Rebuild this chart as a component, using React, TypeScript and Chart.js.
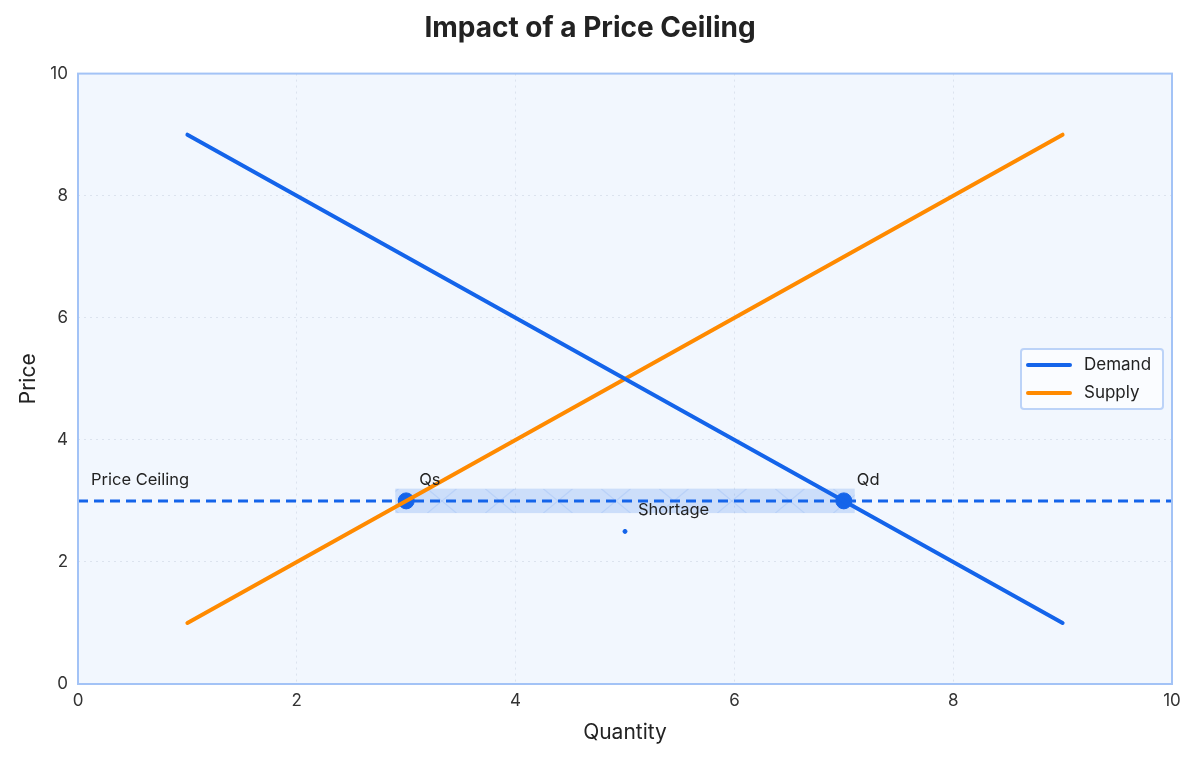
import React, { useEffect, useRef } from "react";
import { Chart, registerables } from "chart.js";

Chart.register(...registerables);

const demandPoints = [
  { x: 1, y: 9 },
  { x: 9, y: 1 },
];
const supplyPoints = [
  { x: 1, y: 1 },
  { x: 9, y: 9 },
];
const ceilingPrice = 3;
const ceilingLine = [
  { x: 0, y: ceilingPrice },
  { x: 10, y: ceilingPrice },
];
const marketPoints = [
  { x: 3, y: 3 },
  { x: 7, y: 3 },
];
const shortagePoint = [{ x: 5, y: 2.5 }];
const shortageBand = { x0: 2.9, x1: 7.1, y0: 2.8, y1: 3.2 };
const labelTexts = ["Price Ceiling", "Qs", "Qd", "Shortage"];
const labelAnchors = [
  { x: 0, y: 3 },
  { x: 3, y: 3 },
  { x: 7, y: 3 },
  { x: 5, y: 2.5 },
];
const tickValues = [0, 2, 4, 6, 8, 10];
const legendLabels = ["Demand", "Supply"];

const BLUE = "#1464ea";
const ORANGE = "#ff8a00";
const FONT = "Inter, 'Noto Sans', sans-serif";

const bgPlugin = {
  id: "bgPlugin",
  beforeDraw(chart: any) {
    const { ctx, chartArea: a } = chart;
    ctx.save();
    ctx.fillStyle = "#f2f7fe";
    ctx.fillRect(a.left, a.top, a.right - a.left, a.bottom - a.top);
    ctx.restore();
  },
  beforeDatasetsDraw(chart: any) {
    const { ctx, scales } = chart;
    const xs = scales.x;
    const ys = scales.y;
    const l = xs.getPixelForValue(shortageBand.x0);
    const r = xs.getPixelForValue(shortageBand.x1);
    const t = ys.getPixelForValue(shortageBand.y1);
    const b = ys.getPixelForValue(shortageBand.y0);
    ctx.save();
    ctx.fillStyle = "rgba(20,100,234,0.17)";
    ctx.fillRect(l, t, r - l, b - t);
    ctx.beginPath();
    ctx.rect(l, t, r - l, b - t);
    ctx.clip();
    ctx.strokeStyle = "rgba(20,100,234,0.10)";
    ctx.lineWidth = 1.2;
    const h = b - t;
    const step = 58;
    for (let x = l - 200; x < r + 200; x += step) {
      ctx.beginPath();
      ctx.moveTo(x, b);
      ctx.lineTo(x + h * 1.2, t);
      ctx.stroke();
      ctx.beginPath();
      ctx.moveTo(x, t);
      ctx.lineTo(x + h * 1.2, b);
      ctx.stroke();
    }
    ctx.restore();
  },
  afterDraw(chart: any) {
    const { ctx, chartArea: a, scales } = chart;
    ctx.save();
    ctx.strokeStyle = "#a3c3f6";
    ctx.lineWidth = 2;
    ctx.strokeRect(a.left, a.top, a.right - a.left, a.bottom - a.top);
    ctx.fillStyle = "#222";
    ctx.font = `16.5px ${FONT}`;
    ctx.textAlign = "left";
    ctx.textBaseline = "middle";
    labelTexts.forEach((txt, i) => {
      const p = labelAnchors[i];
      const px = scales.x.getPixelForValue(p.x) + 13;
      const py = scales.y.getPixelForValue(p.y) - 21;
      ctx.fillText(txt, px, py);
    });
    const lx = 1021;
    const ly = 349;
    const lw = 142;
    const lh = 60;
    ctx.fillStyle = "rgba(255,255,255,0.6)";
    ctx.strokeStyle = "#bcd3f8";
    ctx.lineWidth = 2;
    ctx.beginPath();
    (ctx as any).roundRect(lx, ly, lw, lh, 3);
    ctx.fill();
    ctx.stroke();
    const colors = [BLUE, ORANGE];
    ctx.font = `17px ${FONT}`;
    legendLabels.forEach((lab, i) => {
      const y = ly + 16 + i * 28;
      ctx.strokeStyle = colors[i];
      ctx.lineWidth = 4;
      ctx.lineCap = "round";
      ctx.beginPath();
      ctx.moveTo(lx + 7, y);
      ctx.lineTo(lx + 49, y);
      ctx.stroke();
      ctx.fillStyle = "#222";
      ctx.fillText(lab, lx + 63, y);
    });
    ctx.restore();
  },
};

export default function App() {
  const ref = useRef<HTMLCanvasElement>(null);
  useEffect(() => {
    document.body.style.margin = "0";
    const chart = new Chart(ref.current!, {
      type: "scatter",
      data: {
        datasets: [
          {
            label: "Demand",
            data: demandPoints,
            showLine: true,
            borderColor: BLUE,
            borderWidth: 4,
            pointRadius: 0,
            borderCapStyle: "round",
          },
          {
            label: "Supply",
            data: supplyPoints,
            showLine: true,
            borderColor: ORANGE,
            borderWidth: 4,
            pointRadius: 0,
            borderCapStyle: "round",
          },
          {
            label: "Price Ceiling",
            data: ceilingLine,
            showLine: true,
            borderColor: BLUE,
            borderWidth: 3,
            borderDash: [10, 6],
            pointRadius: 0,
          },
          {
            label: "Quantities",
            data: marketPoints,
            showLine: false,
            backgroundColor: BLUE,
            borderColor: BLUE,
            pointRadius: 8,
          },
          {
            label: "Shortage",
            data: shortagePoint,
            showLine: false,
            backgroundColor: BLUE,
            borderColor: BLUE,
            pointRadius: 2,
          },
        ],
      } as any,
      options: {
        animation: false,
        responsive: true,
        maintainAspectRatio: false,
        layout: { padding: { left: 8, right: 28, top: 0, bottom: 0 } },
        plugins: {
          legend: { display: false },
          tooltip: { enabled: false },
          title: {
            display: true,
            text: "Impact of a Price Ceiling",
            color: "#222",
            font: { family: FONT, size: 28, weight: "bold" },
            padding: { top: 12, bottom: 28 },
          },
        },
        scales: {
          x: {
            type: "linear",
            min: 0,
            max: 10,
            afterFit(scale: any) {
              scale.height = 77;
            },
            afterBuildTicks(scale: any) {
              scale.ticks = tickValues.map((v) => ({ value: v }));
            },
            ticks: {
              color: "#333",
              font: { family: FONT, size: 17 },
              padding: 7,
            },
            grid: {
              color: "rgba(180,190,210,0.35)",
              drawTicks: false,
            },
            border: { display: false, dash: [2, 4] },
            title: {
              display: true,
              text: "Quantity",
              color: "#222",
              font: { family: FONT, size: 21 },
              padding: { top: 0, bottom: 16 },
            },
          },
          y: {
            type: "linear",
            min: 0,
            max: 10,
            afterFit(scale: any) {
              scale.width = 70;
            },
            afterBuildTicks(scale: any) {
              scale.ticks = tickValues.map((v) => ({ value: v }));
            },
            ticks: {
              color: "#333",
              font: { family: FONT, size: 17 },
              padding: 10,
            },
            grid: {
              color: "rgba(180,190,210,0.35)",
              drawTicks: false,
            },
            border: { display: false, dash: [2, 4] },
            title: {
              display: true,
              text: "Price",
              color: "#222",
              font: { family: FONT, size: 21 },
              padding: { top: 8, bottom: 0 },
            },
          },
        },
      } as any,
      plugins: [bgPlugin],
    });
    return () => chart.destroy();
  }, []);
  return (
    <div style={{ width: 1200, height: 761, position: "relative" }}>
      <canvas ref={ref} />
    </div>
  );
}
